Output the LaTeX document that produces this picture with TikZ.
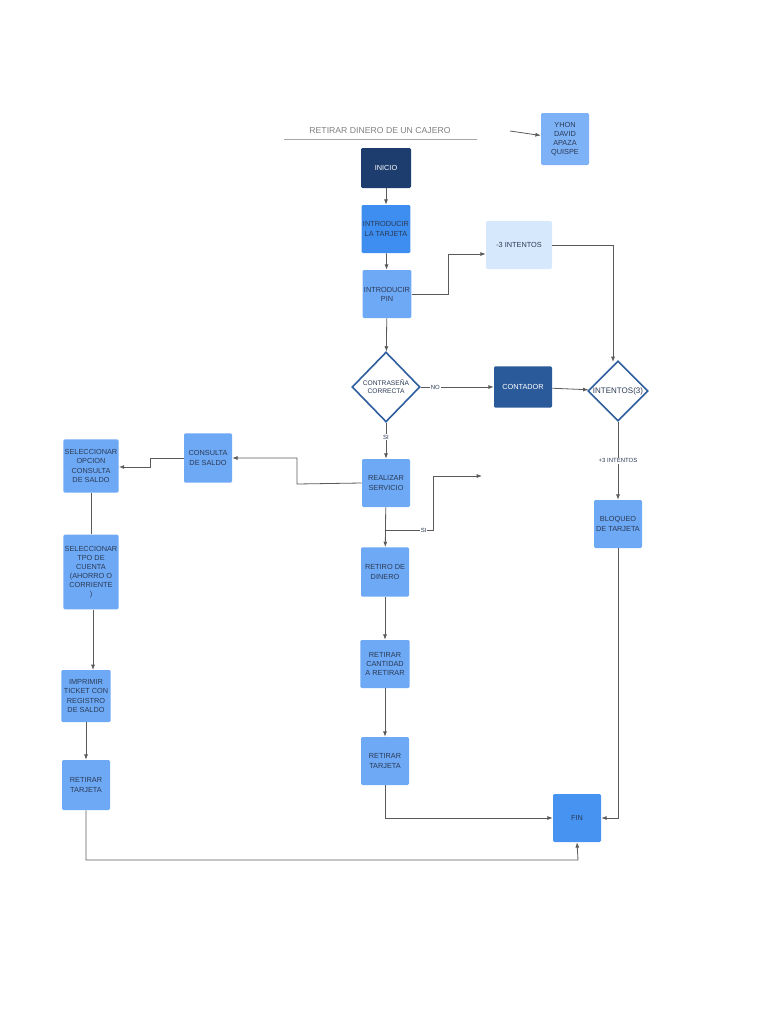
\documentclass[tikz,border=0pt]{standalone}
\usepackage{fontspec}
\setmainfont{Liberation Sans}
\usetikzlibrary{shapes.geometric,arrows.meta}
\definecolor{navy}{HTML}{1C3D6E}
\definecolor{midb}{HTML}{3D8EF0}
\definecolor{lb}{HTML}{6EA9F5}
\definecolor{pale}{HTML}{D6E8FC}
\definecolor{cont}{HTML}{2A5A9A}
\definecolor{dia}{HTML}{2E5E9E}
\definecolor{ln}{HTML}{5A5A5A}
\definecolor{tx}{HTML}{2B3A55}
\begin{document}
\begin{tikzpicture}[x=0.75pt,y=-0.75pt,
 box/.style={rectangle,rounded corners=1pt,inner sep=1pt,align=center,font=\fontsize{5.5}{6.8}\selectfont,text=tx,fill=lb},
 dm/.style={diamond,draw=dia,line width=1.2pt,fill=white,inner sep=0pt,align=center,font=\fontsize{5}{6}\selectfont,text=tx},
 ar/.style={draw=ln,line width=0.6pt,-{Latex[length=4pt,width=3pt]}},
 pl/.style={draw=ln,line width=0.6pt},
 lab/.style={font=\fontsize{4.5}{5}\selectfont,fill=white,inner sep=0.5pt,text=tx}]
\useasboundingbox (0,0) rectangle (768,1024);
\node[font=\fontsize{6.5}{8}\selectfont,text=gray] (title) at (380,131) {RETIRAR DINERO DE UN CAJERO};
\draw[gray!70,line width=0.6pt] (284,139) -- (477,139);
\coordinate (ys) at (510,131);
\node[box,minimum width=36pt,minimum height=39pt,fill=lb!90] (yhon) at (565,139) {YHON\\DAVID\\APAZA\\QUISPE};
\draw[ar] (ys) -- (yhon);
\node[box,fill=navy,text=white,minimum width=37.5pt,minimum height=30pt] (inicio) at (386,168) {INICIO};
\node[box,fill=midb,minimum width=36pt,minimum height=36pt] (tarj) at (386,229) {INTRODUCIR\\LA TARJETA};
\node[box,minimum width=36pt,minimum height=36pt] (pin) at (387,294) {INTRODUCIR\\PIN};
\node[box,fill=pale,minimum width=49.5pt,minimum height=36pt] (menos) at (519,245) {-3 INTENTOS};
\node[dm,minimum width=51pt,minimum height=52.5pt] (contra) at (386,387) {CONTRASEÑA\\CORRECTA};
\node[box,fill=cont,text=white,minimum width=43.5pt,minimum height=31pt] (conta) at (523,387) {CONTADOR};
\node[dm,minimum width=45pt,minimum height=45pt,font=\fontsize{6}{7}\selectfont] (intent) at (618,391) {INTENTOS(3)};
\node[box,minimum width=36pt,minimum height=36pt] (real) at (386,483) {REALIZAR\\SERVICIO};
\node[box,minimum width=36pt,minimum height=37pt] (consu) at (208,458) {CONSULTA\\DE SALDO};
\node[box,minimum width=37.5pt,minimum height=40pt] (selo) at (91,466) {SELECCIONAR\\OPCION\\CONSULTA\\DE SALDO};
\node[box,minimum width=37pt,minimum height=56pt] (selt) at (91,572) {SELECCIONAR\\TPO DE\\CUENTA\\(AHORRO O\\CORRIENTE\\)};
\node[box,minimum width=37pt,minimum height=39pt] (impr) at (86,696) {IMPRIMIR\\TICKET CON\\REGISTRO\\DE SALDO};
\node[box,minimum width=36pt,minimum height=37.5pt] (retl) at (86,785) {RETIRAR\\TARJETA};
\node[box,minimum width=36pt,minimum height=37pt] (retiro) at (385,572) {RETIRO DE\\DINERO};
\node[box,minimum width=37pt,minimum height=36pt] (cant) at (385,664) {RETIRAR\\CANTIDAD\\A RETIRAR};
\node[box,minimum width=36pt,minimum height=36pt] (retm) at (385,761) {RETIRAR\\TARJETA};
\node[box,minimum width=36pt,minimum height=36pt] (bloq) at (618,524) {BLOQUEO\\DE TARJETA};
\node[box,fill=midb!80!lb,minimum width=36pt,minimum height=36pt] (fin) at (577,818) {FIN};
\coordinate (sifree) at (482,476);
% edges
\draw[ar] (inicio) -- (tarj);
\draw[ar] (tarj) -- (pin);
\draw[ar] (pin.east) -- (448,294) -- (448,254) -- (menos.west |- 0,254);
\draw[ar] (menos.east) -- (613,245) -- (613,362);
\draw[ar] (pin) -- (contra);
\draw[ar] (contra) -- node[lab,pos=0.2]{NO} (conta);
\draw[ar] (conta) -- (intent);
\draw[ar] (intent) -- node[lab]{+3 INTENTOS} (bloq);
\draw[ar] (contra) -- node[lab,pos=0.4]{SI} (real);
\draw[ar] (real.west) -- (297,484) -- (297,458) -- (consu.east);
\draw[ar] (consu.west) -- (150,458) -- (150,467) -- (selo.east |- 0,467);
\draw[pl] (selo) -- (selt);
\draw[ar] (93,610) -- (93,670);
\draw[ar] (86,722) -- (retl);
\draw[ar] (retl.south) -- (86,860) -- (578,860) -- (fin.south);
\draw[ar] (real) -- (retiro);
\draw[ar] (386,530) -- node[lab,pos=0.8]{SI} (433,530) -- (433,476) -- (sifree);
\draw[ar] (retiro) -- (cant);
\draw[ar] (cant) -- (retm);
\draw[ar] (retm.south) -- (385,818) -- (fin.west);
\draw[ar] (bloq.south) -- (618,818) -- (fin.east);
\end{tikzpicture}
\end{document}
